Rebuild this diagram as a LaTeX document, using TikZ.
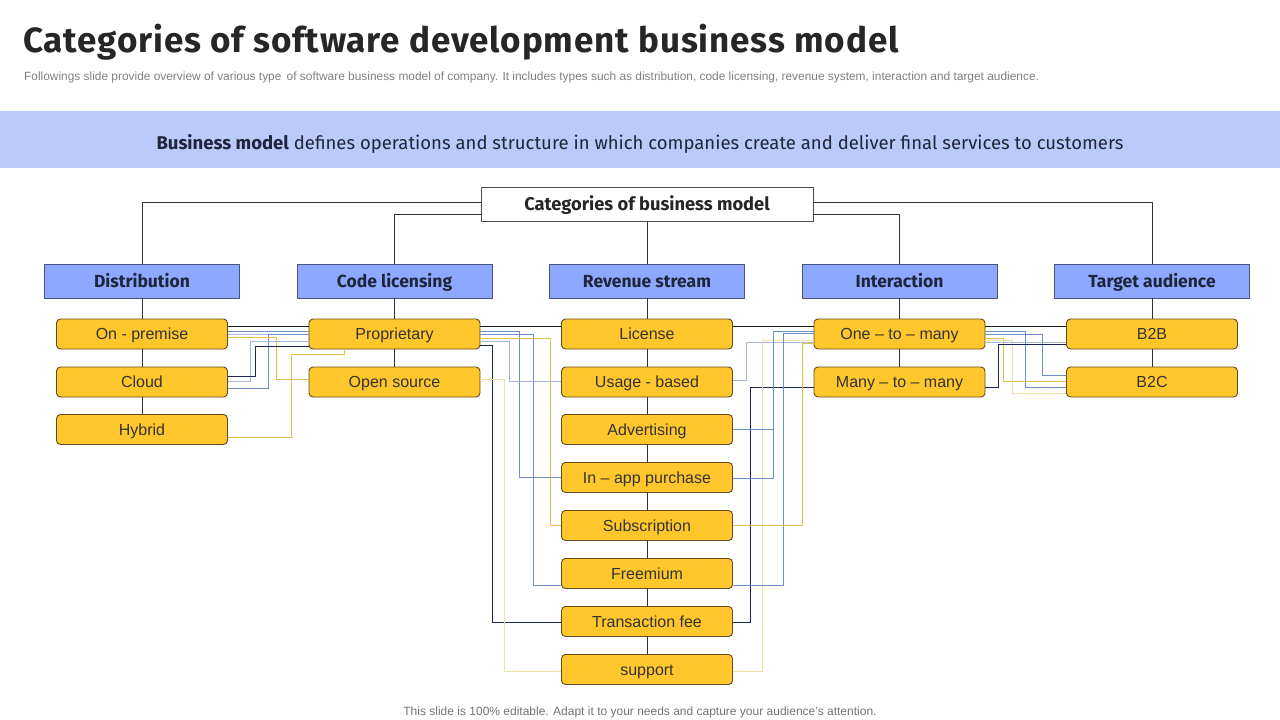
\documentclass[tikz,border=0pt]{standalone}
\usepackage{fontspec}
\setmainfont{Liberation Sans}
\newfontfamily\dinfont{Fira Sans}
\newfontfamily\titlefont{Fira Sans}[LetterSpace=2.5]
\usetikzlibrary{calc}
\definecolor{bandc}{RGB}{185,202,251}
\definecolor{hdrc}{RGB}{142,168,255}
\definecolor{hdrb}{RGB}{70,85,130}
\definecolor{ylw}{RGB}{255,199,44}
\definecolor{ylwb}{RGB}{95,75,30}
\definecolor{ctxt}{RGB}{30,38,60}
\definecolor{cblack}{RGB}{25,25,25}
\definecolor{cnavy}{RGB}{28,38,85}
\definecolor{cblue}{RGB}{112,142,200}
\definecolor{cgray}{RGB}{168,184,212}
\definecolor{cyel}{RGB}{228,192,70}
\definecolor{clyel}{RGB}{240,224,165}
\tikzset{
  ybox/.style={draw=ylwb,fill=ylw,rounded corners=4pt,line width=0.9pt,minimum width=171,minimum height=30,inner sep=0pt,text height=11.5pt,text depth=0pt,font=\fontsize{16}{18}\selectfont,text=black!80},
  hbox/.style={draw=hdrb,fill=hdrc,line width=0.9pt,minimum width=195,minimum height=34,inner sep=0pt,text height=12.5pt,text depth=0pt,font=\dinfont\bfseries\fontsize{17.5}{20}\selectfont,text=ctxt},
  tbox/.style={draw=black!70,fill=white,line width=0.9pt,minimum width=332,minimum height=34,inner sep=0pt,text height=12.5pt,text depth=0pt,font=\dinfont\bfseries\fontsize{18.3}{20}\selectfont,text=black!85},
  tree/.style={draw=black!80,line width=0.9pt},
  cblk/.style={draw=cblack,line width=1pt},
  cnv/.style={draw=cnavy,line width=1pt},
  cbl/.style={draw=cblue,line width=1pt},
  cgr/.style={draw=cgray,line width=1pt},
  cye/.style={draw=cyel,line width=1pt},
  cly/.style={draw=clyel,line width=1pt}
}
\begin{document}
\begin{tikzpicture}[x=1pt,y=-1pt]
\useasboundingbox (0,0) rectangle (1280,720);
% title
\node[anchor=west,inner sep=0pt,text=black!85,font=\titlefont\bfseries\fontsize{35}{40}\selectfont] (title) at (23,42) {Categories of software development business model};
\node[anchor=west,inner sep=0pt,text=black!50,font=\fontsize{11.9}{13}\selectfont] (sub) at (24,77) {Followings slide provide overview of various type\, of software business model of company. It includes types such as distribution, code licensing, revenue system, interaction and target audience.};
% band
\fill[bandc] (0,111) rectangle (1280,168);
\node[inner sep=0pt,text=ctxt,font=\dinfont\fontsize{18.5}{20}\selectfont] (band) at (640,144) {\textbf{Business model} defines operations and structure in which companies create and deliver final services to customers};
% top box
\node[tbox] (top) at (647,204) {Categories of business model};
% headers
\node[hbox] (h1) at (142,281) {Distribution};
\node[hbox] (h2) at (394.5,281) {Code licensing};
\node[hbox] (h3) at (647,281) {Revenue stream};
\node[hbox] (h4) at (899.5,281) {Interaction};
\node[hbox] (h5) at (1152,281) {Target audience};
% tree
\draw[tree] ($(top.west)+(0,-2)$) -| (h1.north);
\draw[tree] ($(top.west)+(0,10)$) -| (h2.north);
\draw[tree] (top.south) -- (h3.north);
\draw[tree] ($(top.east)+(0,10)$) -| (h4.north);
\draw[tree] ($(top.east)+(0,-2)$) -| (h5.north);
% yellow boxes
\node[ybox] (onprem) at (142,334) {On - premise};
\node[ybox] (cloud) at (142,382) {Cloud};
\node[ybox] (hybrid) at (142,429.5) {Hybrid};
\node[ybox] (prop) at (394.5,334) {Proprietary};
\node[ybox] (open) at (394.5,382) {Open source};
\node[ybox] (license) at (647,334) {License};
\node[ybox] (usage) at (647,382) {Usage - based};
\node[ybox] (adv) at (647,429.5) {Advertising};
\node[ybox] (inapp) at (647,477.5) {In -- app purchase};
\node[ybox] (subs) at (647,525.5) {Subscription};
\node[ybox] (free) at (647,573.5) {Freemium};
\node[ybox] (trans) at (647,621.5) {Transaction fee};
\node[ybox] (support) at (647,669.5) {support};
\node[ybox] (one) at (899.5,334) {One -- to -- many};
\node[ybox] (many) at (899.5,382) {Many -- to -- many};
\node[ybox] (b2b) at (1152,334) {B2B};
\node[ybox] (b2c) at (1152,382) {B2C};
% column lines
\draw[tree] (h1.south) -- (onprem.north) (onprem.south) -- (cloud.north) (cloud.south) -- (hybrid.north);
\draw[tree] (h2.south) -- (prop.north) (prop.south) -- (open.north);
\draw[tree] (h3.south) -- (license.north) (license.south) -- (usage.north) (usage.south) -- (adv.north) (adv.south) -- (inapp.north) (inapp.south) -- (subs.north) (subs.south) -- (free.north) (free.south) -- (trans.north) (trans.south) -- (support.north);
\draw[tree] (h4.south) -- (one.north) (one.south) -- (many.north);
\draw[tree] (h5.south) -- (b2b.north) (b2b.south) -- (b2c.north);
% distribution -> code licensing
\draw[cblk] ($(onprem.east)+(0,-8)$) -- ($(prop.west)+(0,-8)$);
\draw[cbl] ($(onprem.east)+(0,-3)$) -- ($(prop.west)+(0,-3)$);
\draw[cgr] ($(onprem.east)+(0,0)$) -- ($(prop.west)+(0,0)$);
\draw[cbl] ($(cloud.east)+(0,6)$) -- ++(40.5,0) |- ($(prop.west)+(0,0)$);
\draw[cye] ($(onprem.east)+(0,3)$) -- ++(48.5,0) |- ($(open.west)+(0,-3)$);
\draw[cgr] ($(cloud.east)+(0,-1)$) -- ++(22.5,0) |- ($(prop.west)+(0,7)$);
\draw[cnv] ($(cloud.east)+(0,-6)$) -- ++(27.5,0) |- ($(prop.west)+(0,12)$);
\draw[cye] ($(hybrid.east)+(0,8)$) -| (291,354) -| ($(prop.south)+(-50,0)$);
% code licensing -> revenue
\draw[cblk] ($(prop.east)+(0,-8)$) -- ($(license.west)+(0,-8)$);
\draw[cbl] ($(prop.east)+(0,-3)$) -- ++(39.5,0) |- ($(inapp.west)+(0,0)$);
\draw[cbl] ($(prop.east)+(0,0)$) -- ++(53.5,0) |- ($(free.west)+(0,12)$);
\draw[cye] ($(prop.east)+(0,4)$) -- ++(70.5,0) |- ($(subs.west)+(0,0)$);
\draw[cgr] ($(prop.east)+(0,7)$) -- ++(29.5,0) |- ($(usage.west)+(0,-1)$);
\draw[cnv] ($(prop.east)+(0,11)$) -- ++(12.5,0) |- ($(trans.west)+(0,1)$);
\draw[cly] ($(open.east)+(0,-3)$) -- ++(24.5,0) |- ($(support.west)+(0,2)$);
% revenue -> interaction
\draw[cblk] ($(license.east)+(0,-8)$) -- ($(one.west)+(0,-8)$);
\draw[cgr] ($(usage.east)+(0,-2)$) -- ++(13.5,0) |- ($(one.west)+(0,8)$);
\draw[cnv] ($(trans.east)+(0,1)$) -- ++(17.5,0) |- ($(many.west)+(0,5)$);
\draw[cly] ($(support.east)+(0,2)$) -- ++(29.5,0) |- ($(one.west)+(0,6)$);
\draw[cbl] ($(adv.east)+(0,0)$) -- ++(40.5,0) |- ($(one.west)+(0,-3)$);
\draw[cbl] ($(inapp.east)+(0,1)$) -- ++(40.5,0) |- ($(one.west)+(0,-3)$);
\draw[cbl] ($(free.east)+(0,12)$) -- ++(50.5,0) |- ($(one.west)+(0,-1)$);
\draw[cye] ($(subs.east)+(0,0)$) -- ++(69.5,0) |- ($(one.west)+(0,9)$);
% interaction -> target
\draw[cblk] ($(one.east)+(0,-8)$) -- ($(b2b.west)+(0,-8)$);
\draw[cbl] ($(one.east)+(0,-3)$) -- ++(40.5,0) |- ($(b2c.west)+(0,5)$);
\draw[cbl] ($(one.east)+(0,0)$) -- ++(57.5,0) |- ($(b2c.west)+(0,-7)$);
\draw[cye] ($(one.east)+(0,4)$) -- ++(18.5,0) |- ($(b2c.west)+(0,-1)$);
\draw[cly] ($(one.east)+(0,6)$) -- ++(27.5,0) |- ($(b2c.west)+(0,11)$);
\draw[cgr] ($(one.east)+(0,8)$) -- ($(b2b.west)+(0,8)$);
\draw[cnv] ($(many.east)+(0,5)$) -- ++(13.5,0) |- ($(b2b.west)+(0,10)$);
% footer
\node[inner sep=0pt,text=black!55,font=\fontsize{12}{13}\selectfont] (foot) at (640,712) {This slide is 100\% editable. Adapt it to your needs and capture your audience's attention.};
\end{tikzpicture}
\end{document}
